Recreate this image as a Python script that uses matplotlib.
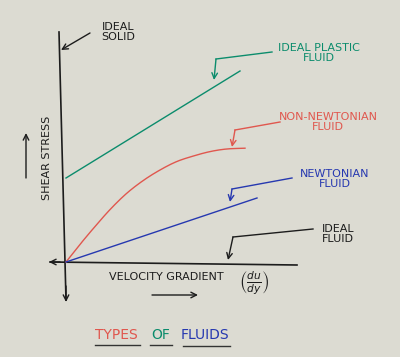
import matplotlib
matplotlib.use('Agg')
import matplotlib.pyplot as plt
import numpy as np

# velocity gradient (du/dy) vs shear stress, arbitrary units
newtonian_x = [0.0, 9.55]
newtonian_y = [0.0, 3.2]
non_newtonian_x = [0.0, 0.7, 1.37, 2.2, 3.03, 3.87, 4.7, 5.53, 6.37, 7.2, 8.03, 8.95]
non_newtonian_y = [0.0, 0.88, 1.68, 2.62, 3.43, 4.08, 4.6, 5.02, 5.3, 5.52, 5.65, 5.69]
plastic_x = [0.0, 8.7]
plastic_y = [4.2, 9.55]
ideal_fluid_x = [-0.8, 11.55]
ideal_fluid_y = [0.0, -0.15]
ideal_solid_x = [0.0, -0.35]
ideal_solid_y = [-1.9, 11.5]

RED = '#e0574e'
GREEN = '#0b8c6c'
BLUE = '#2638b0'
INK = '#1c1c1c'


def smooth(x, y, n=20):
    # Catmull-Rom through the read points
    p = np.column_stack([x, y])
    p = np.vstack([2 * p[0] - p[1], p, 2 * p[-1] - p[-2]])
    out = []
    t = np.linspace(0, 1, n, endpoint=False)[:, None]
    for i in range(1, len(p) - 2):
        p0, p1, p2, p3 = p[i - 1], p[i], p[i + 1], p[i + 2]
        seg = 0.5 * ((2 * p1) + (-p0 + p2) * t + (2 * p0 - 5 * p1 + 4 * p2 - p3) * t ** 2
                     + (-p0 + 3 * p1 - 3 * p2 + p3) * t ** 3)
        out.append(seg)
    out.append(p[-2][None, :])
    out = np.vstack(out)
    return out[:, 0], out[:, 1]


def leader(ax, pts, color):
    xs, ys = zip(*pts)
    ax.plot(xs[:-1], ys[:-1], color=color, lw=1.0)
    ax.annotate('', xy=pts[-1], xytext=pts[-2],
                arrowprops=dict(arrowstyle='->', color=color, lw=1.0,
                                shrinkA=0, shrinkB=0))


def main():
    fig = plt.figure(figsize=(4.0, 3.57), dpi=100)
    fig.patch.set_facecolor('#dcdbd2')
    ax = fig.add_axes([0, 0, 1, 1])
    ax.set_facecolor('#dcdbd2')
    ax.set_xlim(-3.3, 16.7)
    ax.set_ylim(-4.75, 13.1)
    ax.axis('off')

    # hand-drawn axes (ideal solid = vertical axis, ideal fluid = horizontal axis)
    ax.plot(ideal_solid_x, ideal_solid_y, color=INK, lw=1.2)
    ax.plot(ideal_fluid_x, ideal_fluid_y, color=INK, lw=1.2)
    ax.annotate('', xy=(0.0, -2.0), xytext=(0.0, -1.2),
                arrowprops=dict(arrowstyle='->', color=INK, lw=1.0, shrinkA=0, shrinkB=0))
    ax.annotate('', xy=(-0.85, 0.0), xytext=(-0.3, 0.0),
                arrowprops=dict(arrowstyle='->', color=INK, lw=1.0, shrinkA=0, shrinkB=0))

    ax.plot(plastic_x, plastic_y, color=GREEN, lw=1.0)
    sx, sy = smooth(non_newtonian_x, non_newtonian_y)
    ax.plot(sx, sy, color=RED, lw=1.0)
    ax.plot(newtonian_x, newtonian_y, color=BLUE, lw=1.0)

    fs = 8
    ax.text(2.6, 11.5, 'IDEAL\nSOLID', color=INK, fontsize=fs, ha='center', va='center',
            linespacing=1.0)
    leader(ax, [(1.2, 11.45), (-0.25, 10.6)], INK)

    ax.text(12.65, 10.45, 'IDEAL PLASTIC\nFLUID', color=GREEN, fontsize=fs, ha='center',
            va='center', linespacing=1.0)
    leader(ax, [(10.3, 10.5), (7.5, 10.15), (7.4, 9.1)], GREEN)

    ax.text(13.1, 7.0, 'NON-NEWTONIAN\nFLUID', color=RED, fontsize=fs, ha='center',
            va='center', linespacing=1.0)
    leader(ax, [(10.7, 7.0), (8.45, 6.6), (8.3, 5.75)], RED)

    ax.text(13.45, 4.15, 'NEWTONIAN\nFLUID', color=BLUE, fontsize=fs, ha='center',
            va='center', linespacing=1.0)
    leader(ax, [(11.3, 4.2), (8.3, 3.65), (8.2, 3.0)], BLUE)

    ax.text(13.6, 1.4, 'IDEAL\nFLUID', color=INK, fontsize=fs, ha='center', va='center',
            linespacing=1.0)
    leader(ax, [(12.35, 1.65), (8.35, 1.25), (8.1, 0.1)], INK)

    # axis titles
    ax.text(-0.95, 5.2, 'SHEAR STRESS', color=INK, fontsize=fs, rotation=90,
            ha='center', va='center')
    ax.annotate('', xy=(-2.0, 6.45), xytext=(-2.0, 4.2),
                arrowprops=dict(arrowstyle='->', color=INK, lw=1.0, shrinkA=0, shrinkB=0))
    ax.text(5.0, -0.75, 'VELOCITY GRADIENT', color=INK, fontsize=fs, ha='center', va='center')
    ax.text(9.4, -1.05, r'$\left(\frac{du}{dy}\right)$', color=INK, fontsize=11,
            ha='center', va='center')
    ax.annotate('', xy=(6.6, -1.65), xytext=(4.3, -1.65),
                arrowprops=dict(arrowstyle='->', color=INK, lw=1.0, shrinkA=0, shrinkB=0))

    # title
    ax.text(2.5, -3.65, 'TYPES', color=RED, fontsize=10, ha='center', va='center')
    ax.text(4.75, -3.65, 'OF', color=GREEN, fontsize=10, ha='center', va='center')
    ax.text(6.95, -3.65, 'FLUIDS', color=BLUE, fontsize=10, ha='center', va='center')
    ax.plot([1.45, 3.7], [-4.15, -4.15], color='#333333', lw=1.0)
    ax.plot([4.2, 5.3], [-4.15, -4.15], color='#333333', lw=1.0)
    ax.plot([5.85, 8.2], [-4.2, -4.2], color='#333333', lw=1.0)

    fig.savefig('out.png', dpi=100, facecolor=fig.get_facecolor())


if __name__ == '__main__':
    main()
